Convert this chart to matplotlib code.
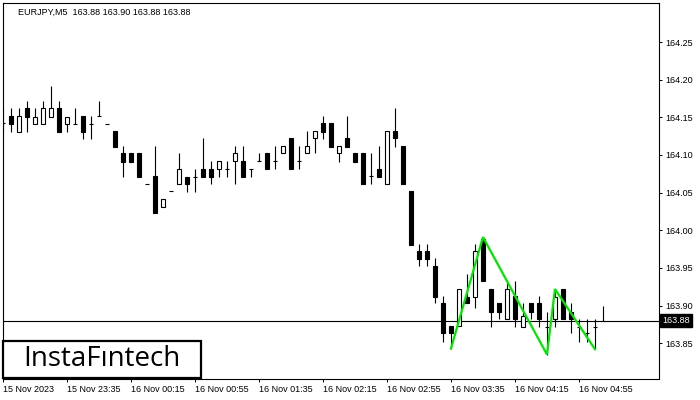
#!/usr/bin/env python3
"""EURJPY M5 candlestick chart with a green pattern outline (MT4 style)."""

import matplotlib

matplotlib.use("Agg")
import matplotlib.pyplot as plt
from matplotlib.patches import Rectangle
from matplotlib.transforms import blended_transform_factory

# --- data -------------------------------------------------------------------
opens = [
    164.142, 164.152, 164.131, 164.162, 164.141, 164.141, 164.151, 164.162,
    164.141, 164.141, 164.152, 164.141, 164.152, 164.141, 164.132, 164.102,
    164.102, 164.102, 164.062, 164.072, 164.031, 164.052, 164.062, 164.071,
    164.071, 164.082, 164.082, 164.082, 164.082, 164.092, 164.092, 164.082,
    164.092, 164.102, 164.092, 164.102, 164.122, 164.092, 164.102, 164.122,
    164.142, 164.142, 164.102, 164.122, 164.102, 164.102, 164.072, 164.082,
    164.062, 164.132, 164.112, 164.052, 163.972, 163.972, 163.953, 163.903,
    163.873, 163.873, 163.912, 163.912, 163.989, 163.922, 163.903, 163.882,
    163.913, 163.872, 163.903, 163.903, 163.872, 163.882, 163.922, 163.892,
    163.872, 163.863, 163.872, 163.880,
]
highs = [
    164.162, 164.162, 164.162, 164.172, 164.162, 164.172, 164.192, 164.172,
    164.151, 164.162, 164.152, 164.152, 164.172, 164.141, 164.132, 164.112,
    164.102, 164.102, 164.062, 164.112, 164.041, 164.052, 164.102, 164.071,
    164.082, 164.122, 164.092, 164.092, 164.092, 164.112, 164.112, 164.082,
    164.102, 164.102, 164.112, 164.112, 164.122, 164.112, 164.132, 164.132,
    164.152, 164.142, 164.112, 164.152, 164.102, 164.102, 164.102, 164.112,
    164.132, 164.162, 164.112, 164.052, 163.982, 163.982, 163.963, 163.913,
    163.873, 163.922, 163.942, 163.982, 163.991, 163.922, 163.903, 163.932,
    163.932, 163.903, 163.903, 163.913, 163.892, 163.922, 163.922, 163.903,
    163.882, 163.882, 163.882, 163.900,
]
lows = [
    164.131, 164.131, 164.131, 164.131, 164.141, 164.141, 164.151, 164.131,
    164.131, 164.141, 164.121, 164.121, 164.152, 164.141, 164.111, 164.071,
    164.091, 164.071, 164.062, 164.023, 164.031, 164.052, 164.062, 164.051,
    164.051, 164.071, 164.062, 164.071, 164.071, 164.062, 164.071, 164.071,
    164.092, 164.082, 164.082, 164.102, 164.082, 164.082, 164.102, 164.102,
    164.121, 164.111, 164.091, 164.111, 164.091, 164.062, 164.062, 164.071,
    164.062, 164.111, 164.062, 163.981, 163.952, 163.952, 163.903, 163.852,
    163.843, 163.873, 163.903, 163.897, 163.932, 163.872, 163.882, 163.882,
    163.872, 163.872, 163.882, 163.872, 163.835, 163.872, 163.882, 163.863,
    163.852, 163.852, 163.842, 163.880,
]
closes = [
    164.142, 164.141, 164.152, 164.151, 164.151, 164.162, 164.162, 164.131,
    164.151, 164.141, 164.131, 164.141, 164.152, 164.141, 164.111, 164.091,
    164.091, 164.071, 164.062, 164.023, 164.041, 164.052, 164.082, 164.062,
    164.071, 164.071, 164.071, 164.092, 164.082, 164.102, 164.071, 164.082,
    164.092, 164.082, 164.092, 164.112, 164.082, 164.092, 164.112, 164.132,
    164.131, 164.111, 164.112, 164.111, 164.091, 164.062, 164.072, 164.071,
    164.132, 164.122, 164.062, 163.981, 163.962, 163.962, 163.912, 163.863,
    163.863, 163.922, 163.903, 163.972, 163.932, 163.892, 163.892, 163.922,
    163.882, 163.886, 163.892, 163.882, 163.872, 163.912, 163.882, 163.882,
    163.872, 163.863, 163.872, 163.880,
]

# pattern outline (bar index, price)
pattern_bars = [56, 60, 68, 69, 74]
pattern_prices = [163.843, 163.991, 163.835, 163.922, 163.842]

last_price = 163.88
title = "EURJPY,M5  163.88 163.90 163.88 163.88"

time_ticks = [0, 8, 16, 24, 32, 40, 48, 56, 64, 72]
time_labels = [
    "15 Nov 2023", "15 Nov 23:35", "16 Nov 00:15", "16 Nov 00:55",
    "16 Nov 01:35", "16 Nov 02:15", "16 Nov 02:55", "16 Nov 03:35",
    "16 Nov 04:15", "16 Nov 04:55",
]
price_ticks = [163.85, 163.90, 163.95, 164.00, 164.05, 164.10, 164.15, 164.20, 164.25]


def draw_candles(ax):
    body_w = 0.55
    lw = 0.8
    for i, (o, h, l, c) in enumerate(zip(opens, highs, lows, closes)):
        ax.vlines(i, l, h, color="black", linewidth=lw, zorder=2)
        if abs(c - o) < 1e-9:
            ax.hlines(o, i - body_w / 2, i + body_w / 2, color="black",
                      linewidth=lw, zorder=3)
            continue
        face = "white" if c > o else "black"
        ax.add_patch(Rectangle((i - body_w / 2, min(o, c)), body_w, abs(c - o),
                               facecolor=face, edgecolor="black",
                               linewidth=lw, zorder=3))


def main():
    plt.rcParams["font.family"] = ["Liberation Sans", "DejaVu Sans"]
    fig = plt.figure(figsize=(7, 4), dpi=100)
    ax = fig.add_axes([3 / 700, 21 / 400, 656 / 700, 376 / 400])

    draw_candles(ax)

    # current price line
    ax.axhline(last_price, color="black", linewidth=0.8, zorder=1)

    # pattern
    ax.plot(pattern_bars, pattern_prices, color="#00e600", linewidth=1.6,
            zorder=4, solid_joinstyle="miter")

    ax.set_xlim(0, 82)
    ax.set_ylim(163.8025, 164.3018)

    ax.yaxis.tick_right()
    ax.set_yticks(price_ticks)
    ax.set_yticklabels([f"{p:.2f}" for p in price_ticks])
    ax.set_xticks(time_ticks)
    ax.set_xticklabels(time_labels, ha="left")
    ax.tick_params(axis="both", direction="out", length=2.5, width=0.7,
                   labelsize=6.5, pad=1.5, colors="black")
    ax.tick_params(axis="y", pad=2)
    for s in ax.spines.values():
        s.set_linewidth(0.8)

    # price tag on the right scale
    trans = blended_transform_factory(ax.transAxes, ax.transData)
    ax.text(1.005, last_price, "163.88", transform=trans, fontsize=6.5,
            color="white", va="center", ha="left",
            bbox={"boxstyle": "square,pad=0.2", "facecolor": "black",
                  "edgecolor": "black"}, zorder=6, clip_on=False)

    ax.text(0.0225, 0.976, title, transform=ax.transAxes, fontsize=6.5,
            va="center", ha="left")

    # logo
    fig.add_artist(Rectangle((3 / 700, 22 / 400), 198 / 700, 37 / 400,
                             transform=fig.transFigure, facecolor="white",
                             edgecolor="black", linewidth=1.6, zorder=10))
    fig.text(102 / 700, 40.5 / 400, "InstaF\u0131ntech", fontsize=20,
             family=["Open Sans", "DejaVu Sans"], fontweight="medium",
             ha="center", va="center", zorder=11)

    fig.savefig("out.png", dpi=100, facecolor="white")


if __name__ == "__main__":
    main()
